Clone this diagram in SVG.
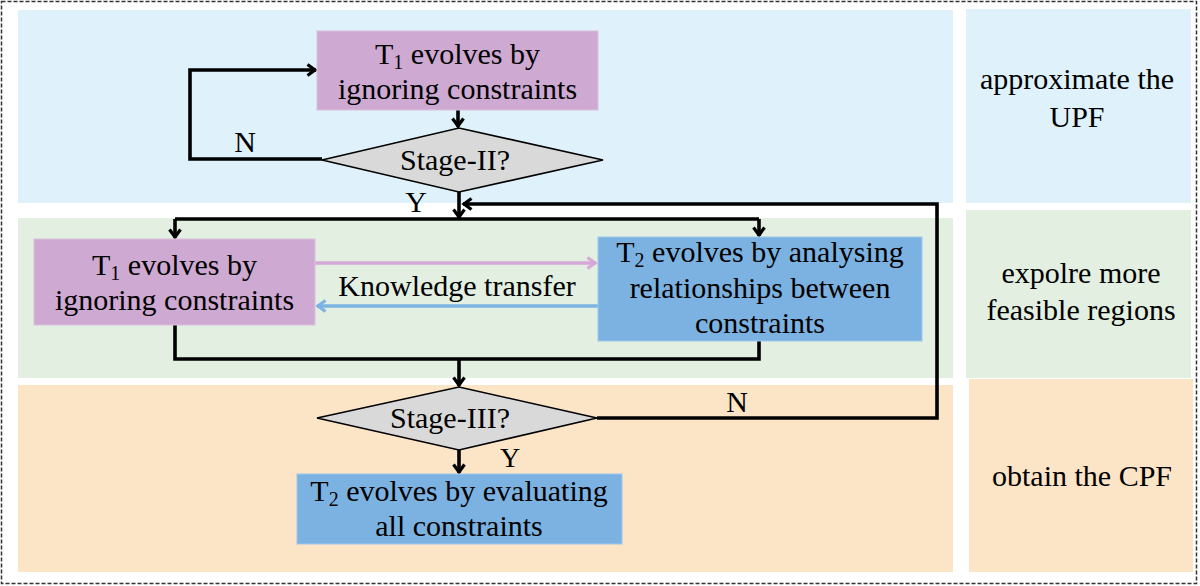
<svg xmlns="http://www.w3.org/2000/svg" width="1200" height="586" viewBox="0 0 1200 586">
<defs>
<style>
.t{font-family:"Liberation Serif","Times New Roman",serif;font-size:30px;fill:#000;text-anchor:middle}
.sub{font-size:20px}
.c{fill:none;stroke:#000;stroke-width:3.6;stroke-linejoin:miter}
.pbox{fill:#CEA9D2;stroke:#DCC0DE;stroke-width:1}
.bbox{fill:#7CB2E1;stroke:#9DC6EC;stroke-width:1}
.dia{fill:#D9D9D9;stroke:#000;stroke-width:1.6}
</style>
<marker id="ah" viewBox="0 0 14 14" refX="11" refY="7" markerWidth="14" markerHeight="14" markerUnits="userSpaceOnUse" orient="auto">
<path d="M2.5,1.5 L10,7 L2.5,12.5" fill="none" stroke="#000" stroke-width="3.2"/>
</marker>
<marker id="ahp" viewBox="0 0 14 14" refX="11" refY="7" markerWidth="14" markerHeight="14" markerUnits="userSpaceOnUse" orient="auto">
<path d="M2.5,1.5 L10,7 L2.5,12.5" fill="none" stroke="#D6A8D8" stroke-width="3.2"/>
</marker>
<marker id="ahb" viewBox="0 0 14 14" refX="11" refY="7" markerWidth="14" markerHeight="14" markerUnits="userSpaceOnUse" orient="auto">
<path d="M2.5,1.5 L10,7 L2.5,12.5" fill="none" stroke="#7CB3E3" stroke-width="3.2"/>
</marker>
</defs>
<rect x="0" y="0" width="1200" height="586" fill="#FFFFFF"/>
<g id="background">
<rect x="1.5" y="1.5" width="1195" height="582" fill="none" stroke="#333" stroke-width="1.5" stroke-dasharray="4 2"/>
<rect x="18" y="10" width="935" height="193" fill="#DFF1FA"/>
<rect x="966" y="9" width="225" height="194" fill="#DFF1FA"/>
<rect x="18" y="218" width="935" height="160" fill="#E2EFE1"/>
<rect x="966" y="210" width="225" height="168" fill="#E2EFE1"/>
<rect x="18" y="385" width="935" height="187" fill="#FCE4C7"/>
<rect x="969" y="379" width="224" height="193" fill="#FCE4C7"/>
</g>
<g id="phase-labels">
<text class="t" transform="translate(1077,89)"><tspan x="0" y="0">approximate the</tspan><tspan x="0" y="38">UPF</tspan></text>
<text class="t" transform="translate(1081,283)"><tspan x="0" y="0">expolre more</tspan><tspan x="0" y="37">feasible regions</tspan></text>
<text class="t" transform="translate(1082,486)">obtain the CPF</text>
</g>
<g id="connectors">
<path class="c" d="M458,110 L458,127" marker-end="url(#ah)"/>
<path class="c" d="M322,159 L190,159 L190,70 L316,70" marker-end="url(#ah)"/>
<path class="c" d="M459,192 L459,218" marker-end="url(#ah)"/>
<path class="c" d="M597,418 L937,418 L937,204 L463,204" marker-end="url(#ah)"/>
<path class="c" d="M175,219 L759,219"/>
<path class="c" d="M175,219 L175,238" marker-end="url(#ah)"/>
<path class="c" d="M759,219 L759,236" marker-end="url(#ah)"/>
<path class="c" d="M175,325 L175,359 L759,359 L759,341"/>
<path class="c" d="M459,359 L459,386" marker-end="url(#ah)"/>
<path class="c" d="M459,450 L459,473" marker-end="url(#ah)"/>
<path d="M315,263 L596,263" fill="none" stroke="#D6A8D8" stroke-width="3.6" marker-end="url(#ahp)"/>
<path d="M598,306 L317,306" fill="none" stroke="#7CB3E3" stroke-width="3.6" marker-end="url(#ahb)"/>
<text class="t" transform="translate(245,152)">N</text>
<text class="t" transform="translate(416,212)">Y</text>
<text class="t" transform="translate(457,296)">Knowledge transfer</text>
<text class="t" transform="translate(737,412)">N</text>
<text class="t" style="font-size:28px" transform="translate(510,467)">Y</text>
</g>
<g id="t1-top">
<rect class="pbox" x="317" y="31" width="281" height="79"/>
<text class="t" transform="translate(457.5,64)"><tspan x="0" y="0">T<tspan class="sub" dy="5">1</tspan><tspan dy="-5"> evolves by</tspan></tspan><tspan x="0" y="35">ignoring constraints</tspan></text>
</g>
<g id="stage2">
<polygon class="dia" points="322,160 459,128 603,160 459,192"/>
<text class="t" transform="translate(455,170)">Stage-II?</text>
</g>
<g id="t1-mid">
<rect class="pbox" x="34" y="239" width="281" height="86"/>
<text class="t" transform="translate(174.5,275)"><tspan x="0" y="0">T<tspan class="sub" dy="5">1</tspan><tspan dy="-5"> evolves by</tspan></tspan><tspan x="0" y="35">ignoring constraints</tspan></text>
</g>
<g id="t2-mid">
<rect class="bbox" x="598" y="237" width="324" height="104"/>
<text class="t" transform="translate(760,262)"><tspan x="0" y="0">T<tspan class="sub" dy="5">2</tspan><tspan dy="-5"> evolves by analysing</tspan></tspan><tspan x="0" y="36">relationships between</tspan><tspan x="0" y="71">constraints</tspan></text>
</g>
<g id="stage3">
<polygon class="dia" points="317,418 459,387 597,418 459,450"/>
<text class="t" transform="translate(450,428)">Stage-III?</text>
</g>
<g id="t2-bottom">
<rect class="bbox" x="297" y="474" width="325" height="70"/>
<text class="t" transform="translate(459,501)"><tspan x="0" y="0">T<tspan class="sub" dy="5">2</tspan><tspan dy="-5"> evolves by evaluating</tspan></tspan><tspan x="0" y="35">all constraints</tspan></text>
</g>
</svg>
